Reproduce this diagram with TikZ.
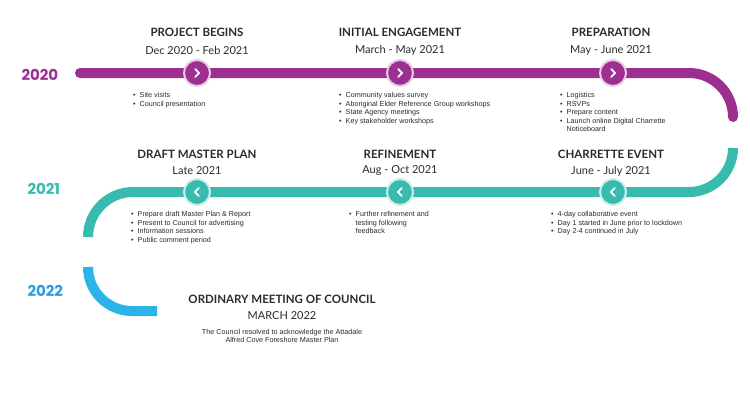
\documentclass[tikz,border=0pt]{standalone}
\usepackage{fontspec}
\setmainfont{Lato}
\newfontfamily\yearfont{Poppins}
\newfontfamily\bulfont{Liberation Sans}
\definecolor{pur}{HTML}{9C2F90}
\definecolor{teal}{HTML}{38BBAF}
\definecolor{blu}{HTML}{2BB3EA}
\definecolor{yblu}{HTML}{2A9EDD}
\definecolor{txt}{HTML}{2A2A2A}
\begin{document}
\begin{tikzpicture}[x=1pt,y=-1pt,
  line/.style={line width=10pt},
  dot/.style={circle,minimum size=26pt,inner sep=0pt,draw=#1!25,line width=2pt,fill=#1},
  chev/.style={white,line width=1.8pt,line cap=round,line join=round},
  year/.style={font=\yearfont\bfseries\fontsize{15}{15}\selectfont,anchor=west},
  ttl/.style={font=\bfseries\fontsize{11.5}{12}\selectfont,text=txt},
  dat/.style={font=\fontsize{11}{12}\selectfont,text=txt},
  bul/.style={font=\bulfont\fontsize{7.2}{8.6}\selectfont,anchor=north west,align=left,text=txt,inner sep=0pt}]
\useasboundingbox (0,0) rectangle (750,400);
% lines
\draw[line,pur,line cap=round] (80,73) -- (689,73) arc[start angle=270,end angle=360,radius=44] -- (733,117);
\draw[line,teal] (733,148) arc[start angle=0,end angle=90,radius=44] -- (133,192) arc[start angle=270,end angle=180,radius=45] -- (88,237);
\draw[line,blu] (88,267) arc[start angle=180,end angle=90,radius=44] -- (157,311);
% years
\node[year,text=pur] (y0) at (18,75) {2020};
\node[year,text=teal] (y1) at (24,189) {2021};
\node[year,text=yblu] (y2) at (24,291) {2022};
% dots
\foreach \n/\x/\y/\c in {d1/197/73/pur,d2/400/73/pur,d3/613/73/pur,d4/197/192/teal,d5/400/192/teal,d6/613/192/teal}
  \node[dot=\c] (\n) at (\x,\y) {};
\foreach \n in {d1,d2,d3}
  \draw[chev] ([shift={(-1.8,-4)}]\n.center) -- ([shift={(2.2,0)}]\n.center) -- ([shift={(-1.8,4)}]\n.center);
\foreach \n in {d4,d5,d6}
  \draw[chev] ([shift={(1.8,-4)}]\n.center) -- ([shift={(-2.2,0)}]\n.center) -- ([shift={(1.8,4)}]\n.center);
% titles
\node[ttl] (t1) at (197,32) {PROJECT BEGINS};
\node[dat] (s1) at (197,50) {Dec 2020 - Feb 2021};
\node[ttl] (t2) at (400,32) {INITIAL ENGAGEMENT};
\node[dat] (s2) at (400,50) {March - May 2021};
\node[ttl] (t3) at (611,32) {PREPARATION};
\node[dat] (s3) at (611,50) {May - June 2021};
\node[ttl] (t4) at (197,154) {DRAFT MASTER PLAN};
\node[dat] (s4) at (197,171) {Late 2021};
\node[ttl] (t5) at (400,154) {REFINEMENT};
\node[dat] (s5) at (400,171) {Aug - Oct 2021};
\node[ttl] (t6) at (611,154) {CHARRETTE EVENT};
\node[dat] (s6) at (611,171) {June - July 2021};
% bullets
\node[bul] (b1) at (133,92) {\textbullet\ \ Site visits\\\textbullet\ \ Council presentation};
\node[bul] (b2) at (339,92) {\textbullet\ \ Community values survey\\\textbullet\ \ Aboriginal Elder Reference Group workshops\\\textbullet\ \ State Agency meetings\\\textbullet\ \ Key stakeholder workshops};
\node[bul] (b3) at (560,92) {\textbullet\ \ Logistics\\\textbullet\ \ RSVPs\\\textbullet\ \ Prepare content\\\textbullet\ \ Launch online Digital Charrette\\\phantom{\textbullet\ \ }Noticeboard};
\node[bul] (b4) at (131,211) {\textbullet\ \ Prepare draft Master Plan \& Report\\\textbullet\ \ Present to Council for advertising\\\textbullet\ \ Information sessions\\\textbullet\ \ Public comment period};
\node[bul] (b5) at (349,211) {\textbullet\ \ Further refinement and\\\phantom{\textbullet\ \ }testing following\\\phantom{\textbullet\ \ }feedback};
\node[bul] (b6) at (551,211) {\textbullet\ \ 4-day collaborative event\\\textbullet\ \ Day 1 started in June prior to lockdown\\\textbullet\ \ Day 2-4 continued in July};
% final
\node[ttl] (t7) at (282,299) {ORDINARY MEETING OF COUNCIL};
\node[dat] (s7) at (282,316) {MARCH 2022};
\node[font=\bulfont\fontsize{7.2}{8.6}\selectfont,align=center,text=txt] (b7) at (282,336) {The Council resolved to acknowledge the Attadale\\Alfred Cove Foreshore Master Plan};
\end{tikzpicture}
\end{document}
